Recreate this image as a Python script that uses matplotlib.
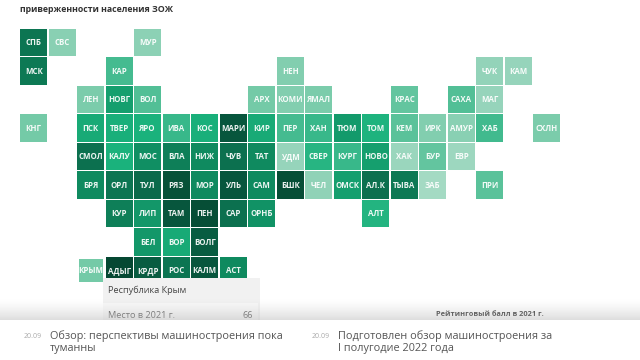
import matplotlib
matplotlib.use('Agg')
import matplotlib.pyplot as plt
from matplotlib.colors import LinearSegmentedColormap, Normalize
from matplotlib.patches import Rectangle
import numpy as np

plt.rcParams['font.family'] = ['Open Sans', 'DejaVu Sans']

# region codes by tile-grid row
labels = ['СПБ', 'СВС', 'МУР',
          'МСК', 'КАР', 'НЕН', 'ЧУК', 'КАМ',
          'ЛЕН', 'НОВГ', 'ВОЛ', 'АРХ', 'КОМИ', 'ЯМАЛ', 'КРАС', 'САХА', 'МАГ',
          'КНГ', 'ПСК', 'ТВЕР', 'ЯРО', 'ИВА', 'КОС', 'МАРИ', 'КИР', 'ПЕР', 'ХАН', 'ТЮМ', 'ТОМ', 'КЕМ', 'ИРК', 'АМУР', 'ХАБ', 'СХЛН',
          'СМОЛ', 'КАЛУ', 'МОС', 'ВЛА', 'НИЖ', 'ЧУВ', 'ТАТ', 'УДМ', 'СВЕР', 'КУРГ', 'НОВО', 'ХАК', 'БУР', 'ЕВР',
          'БРЯ', 'ОРЛ', 'ТУЛ', 'РЯЗ', 'МОР', 'УЛЬ', 'САМ', 'БШК', 'ЧЕЛ', 'ОМСК', 'АЛ.К', 'ТЫВА', 'ЗАБ', 'ПРИ',
          'КУР', 'ЛИП', 'ТАМ', 'ПЕН', 'САР', 'ОРНБ', 'АЛТ',
          'БЕЛ', 'ВОР', 'ВОЛГ',
          'КРЫМ', 'АДЫГ', 'КРДР', 'РОС', 'КАЛМ', 'АСТ']
cols = [0, 1, 4,
        0, 3, 9, 16, 17,
        2, 3, 4, 8, 9, 10, 13, 15, 16,
        0, 2, 3, 4, 5, 6, 7, 8, 9, 10, 11, 12, 13, 14, 15, 16, 18,
        2, 3, 4, 5, 6, 7, 8, 9, 10, 11, 12, 13, 14, 15,
        2, 3, 4, 5, 6, 7, 8, 9, 10, 11, 12, 13, 14, 16,
        3, 4, 5, 6, 7, 8, 12,
        4, 5, 6,
        2, 3, 4, 5, 6, 7]
rows = [0] * 3 + [1] * 5 + [2] * 9 + [3] * 17 + [4] * 14 + [5] * 14 + [6] * 7 + [7] * 3 + [8] * 6
# place in the rating, estimated from the tile colour
places = [20, 72, 73,
          22, 55, 70, 75, 76,
          68, 38, 58, 66, 70, 68, 62, 58, 76,
          66, 42, 44, 45, 52, 44, 8, 42, 55, 52, 36, 46, 60, 70, 72, 54, 68,
          18, 45, 32, 25, 30, 18, 30, 76, 48, 52, 38, 77, 62, 78,
          30, 20, 15, 6, 30, 8, 30, 5, 74, 38, 18, 22, 80, 60,
          25, 35, 8, 5, 18, 33, 47,
          35, 42, 10,
          66, 3, 10, 20, 8, 30]

title = 'приверженности населения ЗОЖ'
tooltip_name = 'Республика Крым'
tooltip_label = 'Место в 2021 г.'
tooltip_value = '66'
legend_title = 'Рейтинговый балл в 2021 г.'
news_dates = ['20.09', '20.09']
news_1 = ['Обзор: перспективы машиностроения пока', 'туманны']
news_2 = ['Подготовлен обзор машиностроения за', 'I полугодие 2022 года']

anchors = [(0, '#03402c'), (15 / 85, '#0b6a4b'), (30 / 85, '#0f8a5f'), (45 / 85, '#1ab27c'),
           (55 / 85, '#45bb90'), (66 / 85, '#74caa7'), (75 / 85, '#93d3b9'), (1, '#b5e0cd')]
cmap = LinearSegmentedColormap.from_list('zoj', anchors)
norm = Normalize(0, 85)

fig = plt.figure(figsize=(6.4, 3.6), dpi=100)

# grid axes, one unit is one tile
pitch = 28.5
ax = fig.add_axes([0, 0, 1, 1])
ax.set_xlim(-33.7 / pitch, (640 - 33.7) / pitch)
ax.set_ylim((360 - 42.5) / pitch, -42.5 / pitch)
ax.axis('off')

widths = [0.84 if lab == 'КРЫМ' else 0.95 for lab in labels]
ax.bar(cols, widths, width=widths, bottom=[r - w / 2 for r, w in zip(rows, widths)],
       color=cmap(norm(places)), linewidth=0)
# baseline alignment so the descenders of Д and Щ don't push a label down
for lab, c, r in zip(labels, cols, rows):
    ax.text(c, r + 0.1, lab, color='white', alpha=0.92, fontsize=5.7, fontweight='bold',
            ha='center', va='baseline')

# page overlay in pixels
over = fig.add_axes([0, 0, 1, 1], facecolor='none')
over.set_xlim(0, 640)
over.set_ylim(360, 0)
over.axis('off')

over.text(20, 9, title, fontsize=6.3, fontweight='bold', color='#333333', va='center')

over.add_patch(Rectangle((103, 278), 157, 45, facecolor='#f1f1f1', edgecolor='none', zorder=2))
over.add_patch(Rectangle((103, 303), 155, 20, facecolor='#f8f8f8', edgecolor='none', zorder=2))
over.text(107.5, 290, tooltip_name, fontsize=6.6, color='#444444', va='center', zorder=3)
over.text(107.5, 316, tooltip_label, fontsize=6.6, color='#666666', va='center', zorder=3)
over.text(253, 316, tooltip_value, fontsize=6.6, color='#666666', va='center', ha='right', zorder=3)
over.text(436, 314, legend_title, fontsize=5.35, fontweight='bold', color='#444444', va='center', zorder=3)

# shadow of the fixed footer
fade = np.zeros((40, 1, 4))
fade[:, :, :3] = 0.72
fade[:, 0, 3] = np.linspace(0, 0.6, 40) ** 1.5
over.imshow(fade, extent=(0, 640, 320, 298), aspect='auto', zorder=4, interpolation='bilinear')
over.set_xlim(0, 640)
over.set_ylim(360, 0)

over.add_patch(Rectangle((0, 320), 640, 40, facecolor='white', edgecolor='none', zorder=5))
for x, d in zip([24, 312], news_dates):
    over.text(x, 337, d, fontsize=5, color='#aaaaaa', va='center', zorder=6)
for x, lines in zip([50, 338], [news_1, news_2]):
    for y, line in zip([336, 348.5], lines):
        over.text(x, y, line, fontsize=7.8, color='#555555', va='center', zorder=6)

fig.savefig('out.png', dpi=100)
